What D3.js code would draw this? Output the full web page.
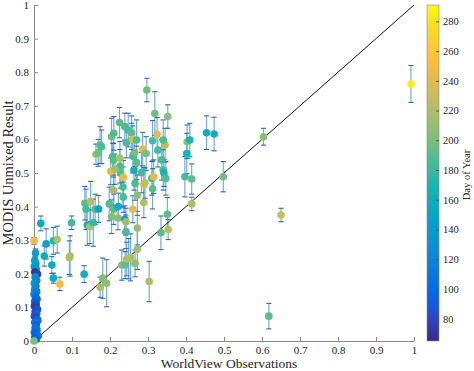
<!DOCTYPE html>
<html><head><meta charset="utf-8">
<script src="https://cdn.jsdelivr.net/npm/d3@7"></script>
<style>body{margin:0;background:#fff}svg{display:block}</style>
</head><body><svg id="c" width="474" height="371"></svg>
<script>
// ---------- data ----------
const worldview = [
 0.000,0.018,0.032,0.027,0.051,0.061,0.047,0.051,0.068,0.095,
 0.093,0.099,0.132,0.134,0.137,0.140,0.147,0.149,0.156,0.161,
 0.170,0.163,0.169,0.174,0.178,0.181,0.174,0.191,0.204,0.210,
 0.202,0.207,0.209,0.209,0.198,0.204,0.210,0.222,0.221,0.225,
 0.226,0.226,0.228,0.235,0.234,0.239,0.239,0.248,0.243,0.242,
 0.242,0.257,0.257,0.260,0.260,0.263,0.265,0.270,0.270,0.260,
 0.272,0.272,0.272,0.266,0.254,0.249,0.231,0.240,0.283,0.286,
 0.289,0.292,0.289,0.297,0.295,0.303,0.310,0.312,0.312,0.315,
 0.318,0.324,0.326,0.352,0.345,0.340,0.336,0.340,0.342,0.347,
 0.351,0.403,0.410,0.402,0.397,0.415,0.415,0.454,0.474,0.498,
 0.604,0.650,0.618,0.992,0.334,0.353,0.213,0.266,0.235,0.244,
 0.004,0.002,0.005,0.001,0.006,0.002,0.006,0.009,0.003,0.007,
 0.001,0.005,0.002,0.007,0.000,0.004,0.008,0.002,0.006,0.001,
 0.004,0.009,0.003,0.007,0.001,0.005,0.010,0.002,0.006,0.003,
 0.008,0.001,0.005,0.011,0.002,0.006,0.000];
const modis = [
 0.298,0.350,0.289,0.253,0.298,0.302,0.226,0.187,0.170,0.253,
 0.248,0.352,0.199,0.410,0.392,0.345,0.340,0.415,0.352,0.392,
 0.393,0.556,0.560,0.583,0.578,0.187,0.160,0.172,0.608,0.618,
 0.505,0.549,0.538,0.449,0.408,0.370,0.392,0.400,0.366,0.650,
 0.544,0.520,0.500,0.487,0.458,0.362,0.638,0.628,0.590,0.325,
 0.355,0.598,0.620,0.600,0.550,0.509,0.560,0.598,0.530,0.392,
 0.434,0.336,0.273,0.231,0.249,0.245,0.226,0.226,0.501,0.571,
 0.466,0.470,0.412,0.747,0.558,0.177,0.484,0.453,0.596,0.489,
 0.677,0.615,0.568,0.668,0.583,0.598,0.539,0.509,0.500,0.484,
 0.377,0.593,0.598,0.558,0.489,0.482,0.408,0.620,0.616,0.489,
 0.608,0.375,0.074,0.765,0.322,0.332,0.511,0.469,0.428,0.244,
 0.262,0.240,0.230,0.222,0.214,0.205,0.201,0.199,0.190,0.180,
 0.172,0.163,0.155,0.147,0.140,0.132,0.125,0.118,0.110,0.104,
 0.100,0.094,0.088,0.081,0.074,0.068,0.062,0.056,0.048,0.040,
 0.033,0.026,0.019,0.015,0.010,0.005,0.000];
const errHalf = [
 0.010,0.022,0.045,0.030,0.040,0.040,0.025,0.015,0.020,0.060,
 0.050,0.020,0.025,0.050,0.060,0.060,0.050,0.060,0.070,0.045,
 0.040,0.030,0.040,0.055,0.050,0.060,0.030,0.070,0.055,0.050,
 0.040,0.040,0.050,0.045,0.050,0.050,0.045,0.040,0.035,0.045,
 0.050,0.050,0.045,0.050,0.060,0.040,0.040,0.050,0.045,0.050,
 0.040,0.050,0.050,0.040,0.050,0.060,0.045,0.060,0.050,0.040,
 0.060,0.050,0.060,0.040,0.070,0.060,0.045,0.040,0.060,0.050,
 0.050,0.045,0.045,0.035,0.050,0.060,0.050,0.060,0.060,0.050,
 0.065,0.050,0.050,0.035,0.050,0.060,0.060,0.060,0.040,0.050,
 0.050,0.050,0.050,0.060,0.060,0.045,0.020,0.050,0.050,0.045,
 0.025,0.020,0.038,0.055,0.050,0.030,0.045,0.050,0.045,0.050,
 0.012,0.010,0.012,0.008,0.010,0.006,0.006,0.006,0.010,0.010,
 0.008,0.012,0.010,0.008,0.010,0.012,0.008,0.010,0.010,0.008,
 0.010,0.008,0.010,0.010,0.008,0.010,0.008,0.010,0.008,0.010,
 0.008,0.008,0.008,0.006,0.006,0.005,0.004];
const dayOfYear = [
 250,158,145,160,172,222,158,158,250,220,
 218,182,162,192,182,170,218,222,178,192,
 145,220,196,192,186,202,218,208,196,188,
 245,186,192,212,188,202,188,158,206,192,
 218,186,188,245,184,145,188,184,186,184,
 216,188,190,240,184,162,200,188,192,245,
 206,210,214,206,222,220,202,192,184,240,
 245,228,218,198,200,218,184,192,184,245,
 198,240,184,206,228,188,184,184,168,188,
 192,206,168,166,184,192,218,162,162,198,
 204,230,192,285,192,222,216,186,186,222,
 142,146,148,140,136,70,74,78,128,122,
 132,118,124,112,118,104,100,96,84,78,
 74,88,82,96,86,80,100,106,94,104,
 108,100,96,106,92,98,202];
const axisTicks = [0,0.1,0.2,0.3,0.4,0.5,0.6,0.7,0.8,0.9,1];
const dayTicks = [80,100,120,140,160,180,200,220,240,260,280];
const dayRange = [65, 291];
const xTitle = "WorldView Observations";
const yTitle = "MODIS Unmixed Result";
const cbTitle = "Day of Year";

// parula colormap stops (MATLAB)
const parula = [
 [0,[0.2081,0.1663,0.5292]],[4,[0.1959,0.2645,0.7279]],[7,[0.0591,0.3598,0.8683]],
 [10,[0.0165,0.4266,0.8786]],[14,[0.0723,0.4887,0.8467]],[18,[0.0641,0.5570,0.8240]],
 [22,[0.0239,0.6287,0.8038]],[26,[0.0384,0.6743,0.7436]],[30,[0.1453,0.7098,0.6646]],
 [34,[0.3022,0.7376,0.5712]],[38,[0.4871,0.7491,0.4840]],[42,[0.6473,0.7456,0.4188]],
 [46,[0.7858,0.7356,0.3633]],[50,[0.9139,0.7258,0.3063]],[53,[0.9938,0.7455,0.2403]],
 [56,[0.9880,0.8066,0.1794]],[59,[0.9626,0.8705,0.1309]],[63,[0.9763,0.9831,0.0538]]];
const toRgb = c => d3.rgb(c[0]*255, c[1]*255, c[2]*255).formatHex();
const parulaScale = d3.scaleLinear()
  .domain(parula.map(p => p[0]/63))
  .range(parula.map(p => toRgb(p[1])))
  .interpolate(d3.interpolateRgb).clamp(true);
const norm = d3.scaleLinear().domain(dayRange).range([0,1]).clamp(true);
const color = d => parulaScale(norm(d));

// ---------- layout ----------
const svg = d3.select("#c");
const x = d3.scaleLinear().domain([0,1]).range([34,414]);
const y = d3.scaleLinear().domain([0,1]).range([341,5]);
const font = "Liberation Serif, Times New Roman, serif";
const axisCol = "#8a8a8a", textCol = "#262626";

const data = worldview.map((v,i)=>({x:v, y:modis[i], e:errHalf[i], d:dayOfYear[i]}));

// axes
const gx = svg.append("g").attr("transform","translate(0,341)")
  .call(d3.axisBottom(x).tickValues(axisTicks).tickFormat(d=>String(d)).tickSize(-4).tickSizeOuter(0).tickPadding(5));
const gy = svg.append("g").attr("transform","translate(34,0)")
  .call(d3.axisLeft(y).tickValues(axisTicks).tickFormat(d=>String(d)).tickSize(-4).tickSizeOuter(0).tickPadding(5));
[gx,gy].forEach(g=>{
  g.attr("font-family",font).attr("font-size",11);
  g.select(".domain").attr("stroke",axisCol);
  g.selectAll(".tick line").attr("stroke",axisCol);
  g.selectAll(".tick text").attr("fill",textCol).attr("font-family",font).attr("font-size",11);
});

// error bars
const eb = svg.append("g");
const ebLine = "#76acd9", ebCap = "#3467a6";
eb.selectAll("line.v").data(data).join("line").attr("class","v")
  .attr("x1",d=>x(d.x)).attr("x2",d=>x(d.x))
  .attr("y1",d=>y(d.y+d.e)).attr("y2",d=>y(d.y-d.e))
  .attr("stroke",ebLine).attr("stroke-width",1.2);
eb.selectAll("line.t").data(data).join("line").attr("class","t")
  .attr("x1",d=>x(d.x)-2.6).attr("x2",d=>x(d.x)+2.6)
  .attr("y1",d=>y(d.y+d.e)).attr("y2",d=>y(d.y+d.e))
  .attr("stroke",ebCap).attr("stroke-width",1.1);
eb.selectAll("line.b").data(data).join("line").attr("class","b")
  .attr("x1",d=>x(d.x)-2.6).attr("x2",d=>x(d.x)+2.6)
  .attr("y1",d=>y(d.y-d.e)).attr("y2",d=>y(d.y-d.e))
  .attr("stroke",ebCap).attr("stroke-width",1.1);

// 1:1 line
svg.append("line").attr("x1",x(0)).attr("y1",y(0)).attr("x2",x(1)).attr("y2",y(1))
  .attr("stroke","#111").attr("stroke-width",1);

// points
svg.append("g").selectAll("circle").data(data).join("circle")
  .attr("cx",d=>x(d.x)).attr("cy",d=>y(d.y)).attr("r",3.8)
  .attr("fill",d=>color(d.d));

// axis titles
svg.append("text").attr("x",229).attr("y",368).attr("text-anchor","middle")
  .attr("font-family",font).attr("font-size",13.5).attr("fill",textCol).text(xTitle);
svg.append("text").attr("transform","translate(13,173) rotate(-90)").attr("text-anchor","middle")
  .attr("font-family",font).attr("font-size",14.5).attr("fill",textCol).text(yTitle);

// colorbar
const cb = d3.scaleLinear().domain(dayRange).range([341,5]);
const defs = svg.append("defs");
const grad = defs.append("linearGradient").attr("id","pg").attr("x1",0).attr("y1",1).attr("x2",0).attr("y2",0);
d3.range(0,1.0001,0.02).forEach(t=>grad.append("stop").attr("offset",t).attr("stop-color",parulaScale(t)));
svg.append("rect").attr("x",427).attr("y",5).attr("width",12).attr("height",336)
  .attr("fill","url(#pg)").attr("stroke",axisCol).attr("stroke-width",0.6);
const gc = svg.append("g").attr("transform","translate(439,0)")
  .call(d3.axisRight(cb).tickValues(dayTicks).tickSize(-3).tickSizeOuter(0).tickPadding(4));
gc.attr("font-family",font);
gc.select(".domain").remove();
gc.selectAll(".tick line").attr("stroke","#555");
gc.selectAll(".tick text").attr("fill",textCol).attr("font-family",font).attr("font-size",10.5);
svg.append("text").attr("transform","translate(470,175) rotate(-90)").attr("text-anchor","middle")
  .attr("font-family",font).attr("font-size",10.5).attr("fill",textCol).text(cbTitle);
</script></body></html>
